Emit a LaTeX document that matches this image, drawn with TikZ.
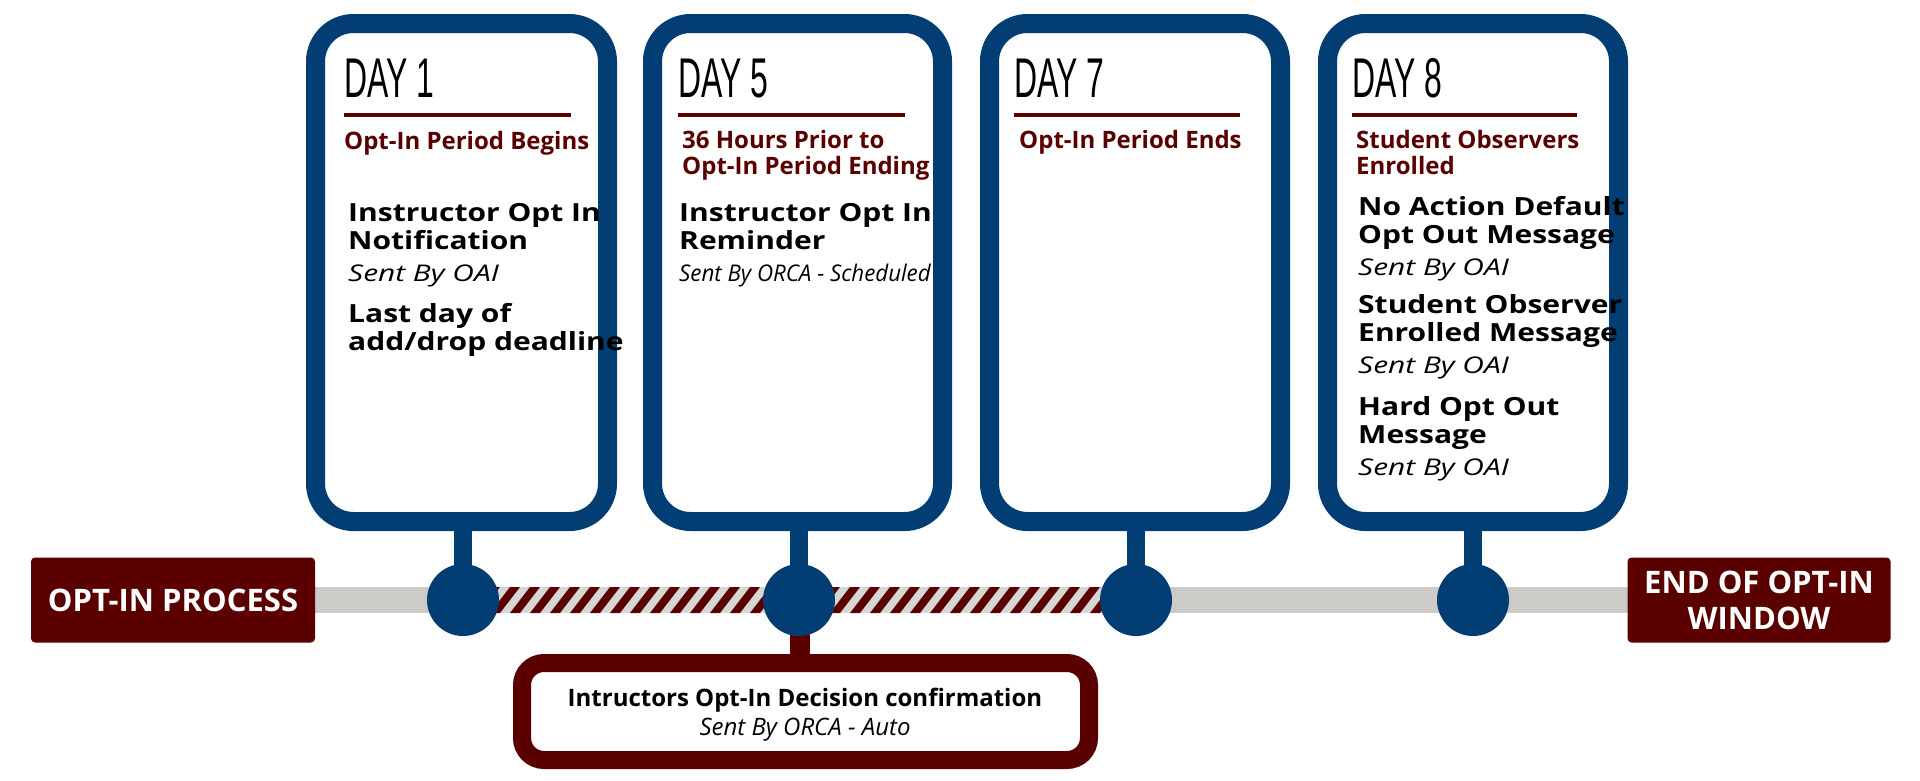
\documentclass[tikz,border=0pt]{standalone}
\usepackage{fontspec}
\setmainfont{Open Sans}
\newfontfamily\dayf{Liberation Sans}
\definecolor{oblue}{RGB}{2,62,115}
\definecolor{omar}{RGB}{90,0,0}
\definecolor{ogrey}{RGB}{204,204,198}
\definecolor{ostripe}{RGB}{214,214,210}
\newcommand{\bx}[1]{\scalebox{1.2}[1]{#1}}
\newcommand{\sx}[1]{\scalebox{1.3}[1]{#1}}
\begin{document}
\begin{tikzpicture}[x=1pt,y=-1pt,
 card/.style={draw=oblue,line width=19pt,fill=white,rounded corners=38pt},
 dot/.style={circle,fill=oblue,minimum size=72pt,inner sep=0pt},
 lab/.style={fill=omar,rounded corners=4pt,text=white,font=\bfseries\fontsize{31}{36}\selectfont,align=center,inner sep=0pt},
 day/.style={anchor=base west,inner sep=0pt,font=\dayf\fontsize{56}{56}\selectfont},
 sub/.style={anchor=base west,inner sep=0pt,text=omar,font=\bfseries\fontsize{24}{26}\selectfont},
 body/.style={anchor=base west,inner sep=0pt,font=\bfseries\fontsize{25}{28}\selectfont},
 sent/.style={anchor=base west,inner sep=0pt,font=\itshape\fontsize{23}{26}\selectfont},
 rule/.style={draw=omar,line width=4pt}]
\useasboundingbox (0,0) rectangle (1920,780);
% bar
\fill[ogrey] (300,587) rectangle (1640,613);
\begin{scope}
\clip (463,587) rectangle (1136,613);
\fill[ostripe] (463,587) rectangle (1136,613);
\foreach \i in {0,...,50}{\fill[omar] ({450+\i*20},613) -- ({460+\i*20},613) -- ({480+\i*20},587) -- ({470+\i*20},587) -- cycle;}
\end{scope}
% bottom stem and box
\fill[omar] (790,600) rectangle (810,660);
\draw[draw=omar,line width=18pt,fill=white,rounded corners=22pt] (522,663) rectangle (1089,760);
\node[anchor=base,inner sep=0pt,font=\bfseries\fontsize{24}{26}\selectfont] (conf) at (805,706) {Intructors Opt-In Decision confirmation};
\node[anchor=base,inner sep=0pt,font=\itshape\fontsize{24}{26}\selectfont] (confs) at (805,735) {Sent By ORCA - Auto};
% stems
\foreach \x in {463,799,1136,1473}{\fill[oblue] (\x-9,520) rectangle (\x+9,580);}
% cards
\draw[card] (315.5,23.5) rectangle (607.5,521.5);
\draw[card] (652.5,23.5) rectangle (942.5,521.5);
\draw[card] (989.5,23.5) rectangle (1280.5,521.5);
\draw[card] (1327.5,23.5) rectangle (1618.5,521.5);
% dots
\node[dot] (d1) at (463,600) {};
\node[dot] (d5) at (799,600) {};
\node[dot] (d7) at (1136,600) {};
\node[dot] (d8) at (1473,600) {};
% labels
\node[lab,minimum width=284pt,minimum height=85pt] (start) at (173,600) {OPT-IN PROCESS};
\node[lab,minimum width=263pt,minimum height=85pt] (end) at (1759,600) {END OF OPT-IN\\WINDOW};
% card 1
\node[day] at (344,97) {\scalebox{0.57}[1]{DAY 1}};
\draw[rule] (344,115) -- (571,115);
\node[sub] at (344,149) {Opt-In Period Begins};
\node[body] at (348,221) {\bx{Instructor Opt In}};
\node[body] at (348,249) {\bx{Notification}};
\node[sent] at (348,281) {\sx{Sent By OAI}};
\node[body] at (348,322) {\bx{Last day of}};
\node[body] at (348,350) {\bx{add/drop deadline}};
% card 2
\node[day] at (678,97) {\scalebox{0.57}[1]{DAY 5}};
\draw[rule] (678,115) -- (905,115);
\node[sub] at (682,148) {36 Hours Prior to};
\node[sub] at (682,174) {Opt-In Period Ending};
\node[body] at (679,221) {\bx{Instructor Opt In}};
\node[body] at (679,249) {\bx{Reminder}};
\node[sent] at (679,281) {\scalebox{0.97}[1]{Sent By ORCA - Scheduled}};
% card 3
\node[day] at (1014,97) {\scalebox{0.57}[1]{DAY 7}};
\draw[rule] (1014,115) -- (1240,115);
\node[sub] at (1019,148) {Opt-In Period Ends};
% card 4
\node[day] at (1352,97) {\scalebox{0.57}[1]{DAY 8}};
\draw[rule] (1352,115) -- (1577,115);
\node[sub] at (1356,148) {Student Observers};
\node[sub] at (1356,174) {Enrolled};
\node[body] at (1358,215) {\bx{No Action Default}};
\node[body] at (1358,243) {\bx{Opt Out Message}};
\node[sent] at (1358,275) {\sx{Sent By OAI}};
\node[body] at (1358,313) {\bx{Student Observer}};
\node[body] at (1358,341) {\bx{Enrolled Message}};
\node[sent] at (1358,373) {\sx{Sent By OAI}};
\node[body] at (1358,415) {\bx{Hard Opt Out}};
\node[body] at (1358,443) {\bx{Message}};
\node[sent] at (1358,475) {\sx{Sent By OAI}};
\end{tikzpicture}
\end{document}
